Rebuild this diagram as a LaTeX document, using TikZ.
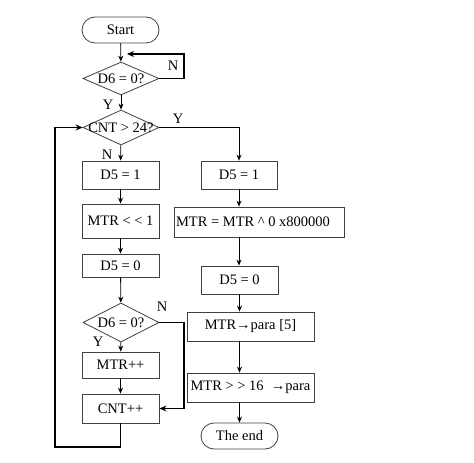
\documentclass[tikz,border=0pt]{standalone}
\usepackage{fontspec}
\setmainfont{Liberation Serif}
\usetikzlibrary{shapes.geometric,arrows.meta}
\begin{document}
\begin{tikzpicture}[x=1bp,y=1bp,
  font=\fontsize{14.5bp}{17bp}\selectfont,
  every node/.style={inner sep=0pt},
  boxstyle/.style={draw=black!75,line width=0.8bp,rectangle,minimum width=#1},
  boxstyle/.default=77bp,
  termstyle/.style={draw=black!75,line width=0.8bp,rectangle,rounded corners=13bp,minimum width=77bp,minimum height=26bp},
  decstyle/.style={draw=black!75,line width=0.8bp,diamond,minimum width=76bp,minimum height=#1},
  flow/.style={line width=0.8bp,-{Stealth[length=6bp,width=5bp]}},
  loopline/.style={line width=1.4bp,-{Stealth[length=7bp,width=6bp]}},
  lab/.style={inner sep=0pt}]
\useasboundingbox (0,0) rectangle (474,-463);
% left column
\node[termstyle] (start) at (120.5,-30) {Start};
\node[decstyle=33bp] (d1) at (121,-78.5) {\makebox[0pt]{D6 = 0?}};
\node[decstyle=35bp] (d2) at (121,-127.5) {\makebox[0pt]{CNT > 24?}};
\node[boxstyle,minimum height=28bp] (b1) at (120.5,-175) {D5 = 1};
\node[boxstyle,minimum height=34bp] (b2) at (120.5,-221) {MTR < < 1};
\node[boxstyle,minimum height=23bp] (b3) at (120.5,-265.5) {D5 = 0};
\node[decstyle=39bp] (d3) at (121,-322.5) {\makebox[0pt]{D6 = 0?}};
\node[boxstyle,minimum height=26bp] (b4) at (120.5,-365) {MTR++};
\node[boxstyle,minimum height=29bp] (b5) at (120.5,-408.5) {CNT++};
% right column
\node[boxstyle=76bp,minimum height=28bp] (r1) at (239,-175) {D5 = 1};
\node[boxstyle=170bp,minimum height=30bp] (r2) at (259,-222) {MTR = MTR \^{} 0 x800000\hspace*{12bp}};
\node[boxstyle,minimum height=28bp] (r3) at (239.5,-280) {D5 = 0};
\node[boxstyle=127bp,minimum height=29bp] (r4) at (250.5,-326.5) {MTR→para [5]};
\node[boxstyle=127bp,minimum height=29bp] (r5) at (250.5,-387.5) {MTR > > 16 \ →para};
\node[termstyle] (end) at (239.5,-436) {The end};
% coordinates
\coordinate (j1) at (127,-54);
\coordinate (c1) at (184,-78.5);
\coordinate (c2) at (184,-322.5);
\coordinate (c3) at (120.5,-447);
\coordinate (c4) at (55,-447);
% labels
\node[lab] (lN1) at (173,-66) {N};
\node[lab] (lY1) at (108,-105) {Y};
\node[lab] (lY2) at (178,-119) {Y};
\node[lab] (lN2) at (107,-155) {N};
\node[lab] (lN3) at (162,-307) {N};
\node[lab] (lY3) at (98,-342) {Y};
% connectors left
\draw[flow] (start) -- (d1);
\draw[loopline] (d1.east) -- (c1) |- (j1);
\draw[flow] (d1) -- (d2);
\draw[flow] (d2) -- (b1);
\draw[flow] (b1) -- (b2);
\draw[flow] (b2) -- (b3);
\draw[flow] (b3) -- (d3);
\draw[flow] (d3) -- (b4);
\draw[flow] (b4) -- (b5);
\draw[loopline] (d3.east) -- (c2) |- (b5.east);
\draw[loopline] (b5.south) -- (c3) -- (c4) |- (d2.west);
% connectors right
\draw[flow] (d2.east) -| (r1.north);
\draw[flow] (r1.south) -- (r1.south |- r2.north);
\draw[flow] (r1.south |- r2.south) -- (r1.south |- r3.north);
\draw[flow] (r3.south) -- (r3.south |- r4.north);
\draw[flow] (r3.south |- r4.south) -- (r3.south |- r5.north);
\draw[flow] (r3.south |- r5.south) -- (end.north);
\end{tikzpicture}
\end{document}
